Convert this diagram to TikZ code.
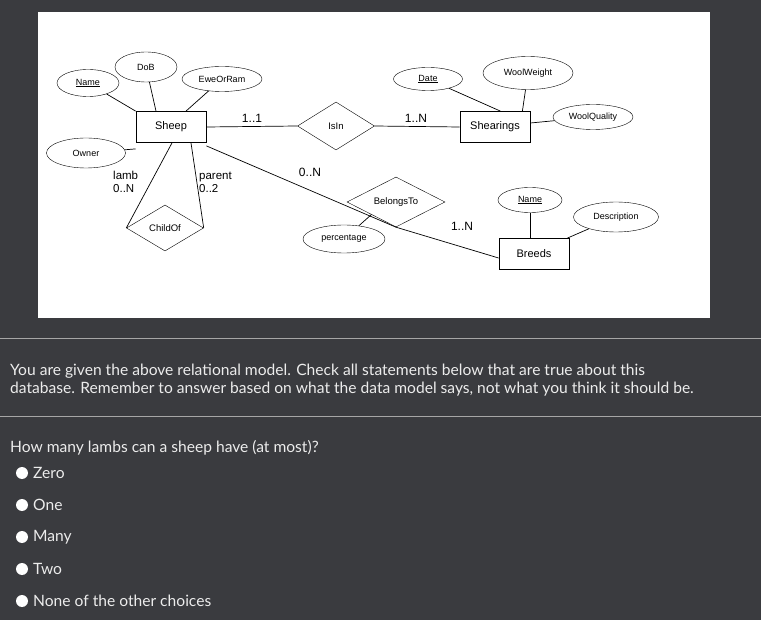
\documentclass[tikz,border=0pt]{standalone}
\usepackage{fontspec}
\setmainfont{Liberation Sans}
\newfontfamily\latofont{Lato}
\usetikzlibrary{shapes.geometric,calc}
\definecolor{bgc}{HTML}{3A3B3F}
\definecolor{txt}{HTML}{ECECEC}
\begin{document}
\begin{tikzpicture}[x=1pt,y=-1pt,
  ent/.style={draw,thick,minimum width=70pt,minimum height=31pt,inner sep=0pt,font=\fontsize{11}{12}\selectfont},
  att/.style={draw,ellipse,inner sep=0pt,font=\fontsize{9}{10}\selectfont},
  rel/.style={draw,diamond,aspect=1.65,inner sep=1pt,font=\fontsize{9.5}{10}\selectfont},
  lbl/.style={font=\fontsize{12}{13}\selectfont,inner sep=0pt},
  ln/.style={draw,line width=0.7pt},
  qt/.style={text=txt,font=\latofont\fontsize{15.6}{18}\selectfont,anchor=west,inner sep=0pt},
  radio/.style={fill=white,draw=none}]
\fill[bgc] (0,0) rectangle (761,620);
\useasboundingbox (0,0) rectangle (761,620);
\fill[white] (38,12) rectangle (710,318);
% entities
\node[ent] (sheep) at (171,127) {Sheep};
\node[ent] (shear) at (495,127) {Shearings};
\node[ent] (breeds) at (534,254) {Breeds};
% attributes
\node[att,minimum width=62pt,minimum height=27pt] (name) at (88,83) {\underline{Name}};
\node[att,minimum width=62pt,minimum height=30pt] (dob) at (146,67) {DoB};
\node[att,minimum width=80pt,minimum height=25pt] (ewe) at (222,79) {EweOrRam};
\node[att,minimum width=79pt,minimum height=30pt] (owner) at (86,153) {Owner};
\node[att,minimum width=69pt,minimum height=23pt] (date) at (428,79) {\underline{Date}};
\node[att,minimum width=90pt,minimum height=33pt] (ww) at (528,73) {WoolWeight};
\node[att,minimum width=80pt,minimum height=25pt] (wq) at (593,117) {WoolQuality};
\node[att,minimum width=82pt,minimum height=28pt] (perc) at (344,239) {percentage};
\node[att,minimum width=64pt,minimum height=25pt] (bname) at (530,200) {\underline{Name}};
\node[att,minimum width=85pt,minimum height=30pt] (desc) at (616,217) {Description};
% relationships
\node[rel,minimum width=77pt,minimum height=48pt] (isin) at (336,126) {IsIn};
\node[rel,minimum width=77pt,minimum height=46pt] (child) at (165,228) {ChildOf};
\node[rel,minimum width=98pt,minimum height=50pt] (belongs) at (396,202) {BelongsTo};
% attribute links
\draw[ln] (name) -- (sheep.north west);
\draw[ln] (dob) -- ([xshift=-15pt]sheep.north);
\draw[ln] (ewe) -- ([xshift=15pt]sheep.north);
\draw[ln] (owner) -- ([yshift=-6pt]sheep.south west);
\draw[ln] (date) -- ([xshift=-30pt]shear.north east);
\draw[ln] (ww) -- ([xshift=-8pt]shear.north east);
\draw[ln] (wq) -- ([yshift=4pt]shear.east);
\draw[ln] (bname) -- ([xshift=-4pt]breeds.north);
\draw[ln] (desc) -- ([xshift=-2pt]breeds.north east);
\draw[ln] (perc) -- ($(belongs.west)!0.5!(belongs.south)$);
% relationship links
\draw[ln] (sheep.east) -- (isin.west);
\node[lbl] (l11) at (252,118) {1..1};
\draw[ln] (isin.east) -- (shear.west);
\node[lbl] (l1nb) at (416,118) {1..N};
\draw[ln] ([yshift=-3pt]sheep.south east) -- (belongs.south);
\node[lbl] (l0n) at (310,172) {0..N};
\draw[ln] (belongs.south) -- ([yshift=-4pt]breeds.west);
\node[lbl] (l1n) at (462,226) {1..N};
\draw[ln] ([xshift=1pt]sheep.south) -- (child.west);
\draw[ln] ([xshift=20pt]sheep.south) -- (child.east);
\node[lbl,anchor=west,align=left,font=\fontsize{11.5}{13}\selectfont] (lamb) at (113,182) {lamb\\0..N};
\node[lbl,anchor=west,align=left,font=\fontsize{11.5}{13}\selectfont] (par) at (199,182) {parent\\0..2};
% page text
\draw[gray!70,line width=0.6pt] (0,338) -- (761,338);
\draw[gray!70,line width=0.6pt] (0,416) -- (761,416);
\node[qt] (q1) at (10,371) {You are given the above relational model. Check all statements below that are true about this};
\node[qt] (q2) at (10,389) {database. Remember to answer based on what the data model says, not what you think it should be.};
\node[qt] (q3) at (10,448) {How many lambs can a sheep have (at most)?};
\foreach \y/\t in {473/Zero,505/One,537/Many,569/Two,601/None of the other choices}{
  \fill[white] (22,\y) circle (6pt);
  \node[qt] at (33,\y) {\t};
}
\end{tikzpicture}
\end{document}
